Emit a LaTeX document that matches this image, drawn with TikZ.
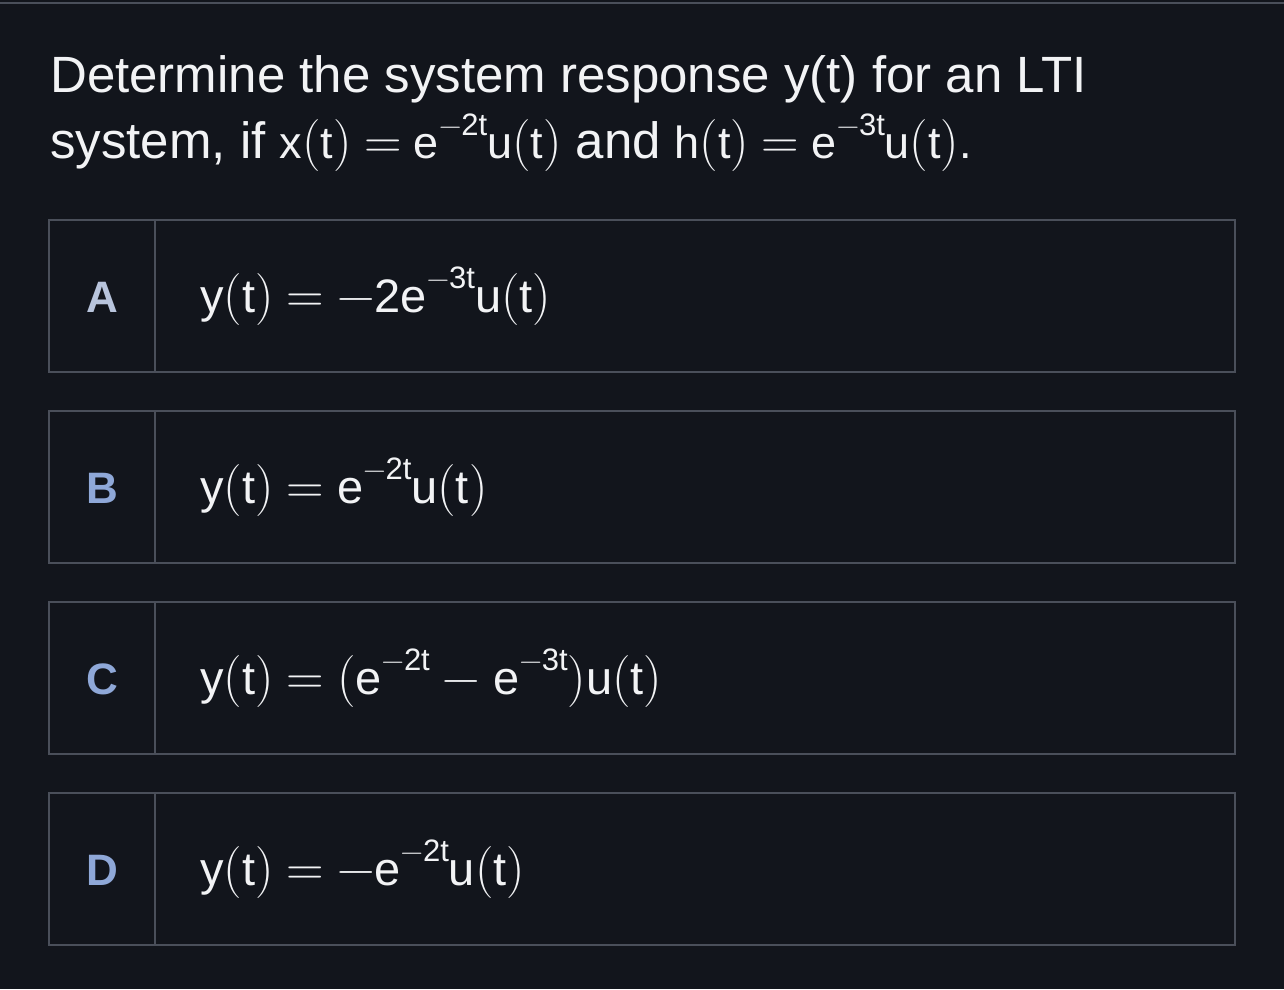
\documentclass[tikz,border=0pt]{standalone}
\usepackage{fontspec}
\setmainfont{Liberation Sans}
\newfontfamily\lmr{Latin Modern Roman}
\definecolor{bg}{HTML}{12151C}
\definecolor{bd}{HTML}{4A4F5A}
\definecolor{fg}{HTML}{F2F3F5}
\definecolor{lab}{HTML}{8FA8D8}
\definecolor{laba}{HTML}{B8C4DC}
\newcommand{\R}[1]{{\lmr\fontsize{52}{52}\selectfont #1}}
\newcommand{\Sp}[1]{\raisebox{0.5em}{\fontsize{31}{31}\selectfont{\lmr −}#1}}
\begin{document}
\begin{tikzpicture}[x=1pt,y=-1pt,
  opt/.style={draw=bd,line width=2pt},
  txt/.style={anchor=base west,text=fg,inner sep=0pt,font=\fontsize{47}{50}\selectfont},
  lbl/.style={anchor=center,text=lab,inner sep=0pt,font=\fontsize{44}{50}\selectfont}]
\fill[bg] (0,0) rectangle (1284,989);
\useasboundingbox (0,0) rectangle (1284,989);
\draw[bd,line width=2pt] (0,3) -- (1284,3);
\node[txt,font=\fontsize{51}{60}\selectfont] (q1) at (50,92) {Determine the system response y(t) for an LTI};
\node[txt,font=\fontsize{51}{60}\selectfont] (q2) at (50,158) {system, if \fontsize{45}{50}\selectfont x\R{(}t\R{)} \R{=} e\Sp{2t}u\R{(}t\R{)}\fontsize{51}{60}\selectfont{} and \fontsize{45}{50}\selectfont h\R{(}t\R{)} \R{=} e\Sp{3t}u\R{(}t\R{)}.};
\foreach \y/\L/\c in {220/A/laba,411/B/lab,602/C/lab,793/D/lab}{
  \draw[opt] (49,\y) rectangle (1235,\y+152);
  \draw[opt] (155,\y) -- (155,\y+152);
  \node[lbl,text=\c] (l\L) at (102,\y+77) {\textbf{\L}};
}
\node[txt] (a) at (200,312) {y\R{(}t\R{)} \R{=} \R{−}2e\Sp{3t}u\R{(}t\R{)}};
\node[txt] (b) at (200,503) {y\R{(}t\R{)} \R{=} e\Sp{2t}u\R{(}t\R{)}};
\node[txt] (c) at (200,694) {y\R{(}t\R{)} \R{=} \R{(}e\Sp{2t} \R{−} e\Sp{3t}\R{)}u\R{(}t\R{)}};
\node[txt] (d) at (200,885) {y\R{(}t\R{)} \R{=} \R{−}e\Sp{2t}u\R{(}t\R{)}};
\end{tikzpicture}
\end{document}
